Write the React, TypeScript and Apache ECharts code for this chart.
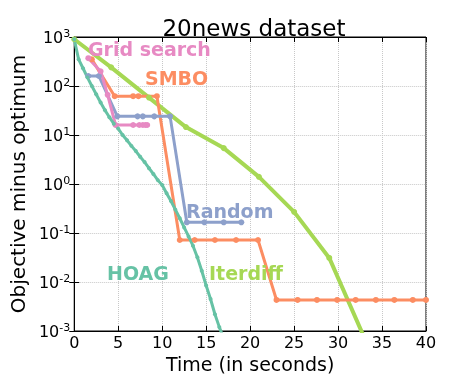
import React, { useEffect, useRef } from "react";
import * as echarts from "echarts";

const title = "20news dataset";
const xName = "Time (in seconds)";
const yName = "Objective minus optimum";

const hoagT = [0, 0.5, 1, 1.5, 2, 2.5, 3, 3.5, 4, 4.5, 5, 5.5, 6, 6.5, 7, 7.5, 8, 8.5, 9, 9.5, 10, 10.5, 11, 11.5, 12, 12.5, 13, 13.5, 14, 14.5, 15, 15.5, 16, 16.5, 17];
const hoagV = [900, 350, 230, 150, 100, 68, 46, 32, 23, 17, 13.5, 10, 7.8, 6, 4.7, 3.6, 2.8, 2.1, 1.6, 1.2, 0.95, 0.65, 0.45, 0.3, 0.2, 0.13, 0.085, 0.055, 0.032, 0.017, 0.0085, 0.0045, 0.0022, 0.0012, 0.0007];

const iterT = [0, 4.2, 8.5, 12.7, 17, 21, 25, 29, 33.5];
const iterV = [900, 240, 58, 14.5, 5.4, 1.4, 0.27, 0.031, 0.00045];

const gridT = [1.6, 3.0, 3.8, 4.7, 6.7, 7.4, 7.8, 8.1, 8.3];
const gridV = [370, 200, 66, 16, 16, 16, 16, 16, 16];

const randT = [1.6, 2.8, 4.9, 7.2, 7.8, 9.1, 10.9, 12.8, 14.8, 17, 19];
const randV = [160, 160, 24, 24, 24, 24, 24, 0.165, 0.165, 0.165, 0.165];

const smboT = [2.0, 4.6, 6.7, 7.3, 9.4, 12, 13.7, 16, 18.4, 20.9, 23, 25.4, 27.6, 29.9, 32, 34.3, 36.4, 38.5, 40];
const smboV = [350, 62, 62, 62, 62, 0.072, 0.072, 0.072, 0.072, 0.072, 0.0043, 0.0043, 0.0043, 0.0043, 0.0043, 0.0043, 0.0043, 0.0043, 0.0043];

const COLORS = {
  hoag: "#66c2a5",
  smbo: "#fc8d62",
  random: "#8da0cb",
  grid: "#e78ac3",
  iter: "#a6d854",
};

const FONT = "DejaVu Sans";

function zip(t: number[], v: number[]) {
  return t.map((x, i) => [x, v[i]]);
}

export default function App() {
  const ref = useRef<HTMLDivElement>(null);
  useEffect(() => {
    if (!ref.current) return;
    const chart = echarts.init(ref.current, null, { renderer: "svg" });
    const labelFmt = (v: number) => {
      const e = Math.round(Math.log10(v));
      return "{b|10}{s|" + e + "}";
    };
    const series = [
      { name: "Iterdiff", t: iterT, v: iterV, c: COLORS.iter, w: 4, s: 6 },
      { name: "SMBO", t: smboT, v: smboV, c: COLORS.smbo, w: 3, s: 6 },
      { name: "Random", t: randT, v: randV, c: COLORS.random, w: 3, s: 6 },
      { name: "Grid search", t: gridT, v: gridV, c: COLORS.grid, w: 3, s: 6 },
      { name: "HOAG", t: hoagT, v: hoagV, c: COLORS.hoag, w: 3, s: 4 },
    ].map((d) => ({
      type: "line",
      name: d.name,
      data: zip(d.t, d.v),
      symbol: "circle",
      symbolSize: d.s,
      showAllSymbol: true,
      lineStyle: { color: d.c, width: d.w },
      itemStyle: { color: d.c },
      clip: true,
    }));
    const labelText = (text: string, x: number, y: number, color: string) => ({
      type: "text",
      left: x,
      top: y,
      style: { text, fill: color, font: `bold 19px "${FONT}"` },
      z: 100,
    });
    chart.setOption({
      animation: false,
      title: {
        text: title,
        left: 249,
        top: 11,
        textAlign: "center",
        textStyle: { fontFamily: FONT, fontSize: 23, fontWeight: "normal", color: "#000" },
      },
      grid: { left: 71, right: 48, top: 37, bottom: 48, show: true, borderColor: "#000", borderWidth: 1 },
      xAxis: [
        {
          type: "value",
          min: 0,
          max: 40,
          interval: 5,
          name: xName,
          nameLocation: "middle",
          nameGap: 20,
          nameTextStyle: { fontFamily: FONT, fontSize: 19, color: "#000" },
          axisLine: { lineStyle: { color: "#000" } },
          axisTick: { inside: true, length: 5, lineStyle: { color: "#000" } },
          axisLabel: { fontFamily: FONT, fontSize: 16, color: "#000", margin: 3 },
          splitLine: { show: true, lineStyle: { color: "#c8c8c8", type: "dotted", width: 1 } },
        },
        {
          type: "value",
          position: "top",
          min: 0,
          max: 40,
          interval: 5,
          axisLine: { show: true, lineStyle: { color: "#000" } },
          axisTick: { inside: true, length: 5, lineStyle: { color: "#000" } },
          axisLabel: { show: false },
          splitLine: { show: false },
        },
      ],
      yAxis: [
        {
          type: "log",
          logBase: 10,
          min: 0.001,
          max: 1000,
          name: yName,
          nameLocation: "middle",
          nameRotate: 90,
          nameGap: 40,
          nameTextStyle: { fontFamily: FONT, fontSize: 20, color: "#000" },
          axisLine: { lineStyle: { color: "#000" } },
          axisTick: { inside: true, length: 5, lineStyle: { color: "#000" } },
          axisLabel: {
            formatter: labelFmt,
            margin: 4,
            rich: {
              b: { fontFamily: FONT, fontSize: 16, color: "#000" },
              s: { fontFamily: FONT, fontSize: 11, color: "#000", verticalAlign: "top", padding: [0, 0, 8, 0] },
            },
          },
          splitLine: { show: true, lineStyle: { color: "#c8c8c8", type: "dotted", width: 1 } },
        },
        {
          type: "log",
          logBase: 10,
          min: 0.001,
          max: 1000,
          position: "right",
          axisLine: { show: true, lineStyle: { color: "#000" } },
          axisTick: { inside: true, length: 5, lineStyle: { color: "#000" } },
          axisLabel: { show: false },
          splitLine: { show: false },
        },
      ],
      series,
      graphic: [
        labelText("Grid search", 88, 39, COLORS.grid),
        labelText("SMBO", 145, 68, COLORS.smbo),
        labelText("Random", 186, 201, COLORS.random),
        labelText("HOAG", 107, 263, COLORS.hoag),
        labelText("Iterdiff", 209, 263, COLORS.iter),
      ],
    });
    return () => chart.dispose();
  }, []);
  return <div ref={ref} style={{ position: "fixed", left: 0, top: 0, width: 474, height: 379 }} />;
}
